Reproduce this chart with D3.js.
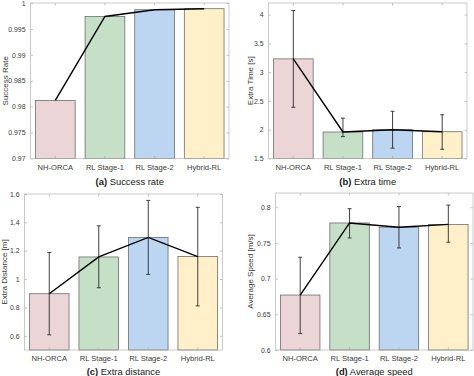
<!DOCTYPE html>
<html>
<head>
<meta charset="utf-8">
<script src="https://cdn.jsdelivr.net/npm/d3@7"></script>
<style>
body { margin: 0; background: #fff; }
svg { display: block; font-family: "Liberation Sans", Arial, sans-serif; }
</style>
</head>
<body>
<script>
// categories and bar colours
var categories = ['NH-ORCA', 'RL Stage-1', 'RL Stage-2', 'Hybrid-RL'];
var barColors = ['#ecd5d7', '#c6dfc7', '#bcd5f1', '#fff0c9'];

// (a) success rate
var successRate = [0.9812, 0.9974, 0.9987, 0.9989];
var successTicks = [0.97, 0.975, 0.98, 0.985, 0.99, 0.995, 1];

// (b) extra time
var extraTime = [3.23, 1.96, 2.00, 1.965];
var extraTimeLow = [2.39, 1.88, 1.68, 1.66];
var extraTimeHigh = [4.07, 2.20, 2.32, 2.26];
var timeTicks = [1.5, 2, 2.5, 3, 3.5, 4];

// (c) extra distance
var extraDist = [0.897, 1.156, 1.294, 1.159];
var extraDistLow = [0.607, 0.939, 1.033, 0.811];
var extraDistHigh = [1.187, 1.376, 1.555, 1.506];
var distTicks = [0.6, 0.8, 1, 1.2, 1.4, 1.6];

// (d) average speed
var avgSpeed = [0.677, 0.778, 0.772, 0.776];
var avgSpeedLow = [0.623, 0.757, 0.743, 0.751];
var avgSpeedHigh = [0.730, 0.798, 0.801, 0.803];
var speedTicks = [0.6, 0.65, 0.7, 0.75, 0.8];

var svg = d3.select('body').append('svg')
	.attr('width', 474)
	.attr('height', 376);

/*
/	ONE PANEL
*/
function drawPanel(p){
	var g = svg.append('g');

	var x = d3.scaleBand()
		.domain(categories)
		.range([p.left, p.right])
		.paddingInner(0.2)
		.paddingOuter(0.1);

	var y = d3.scaleLinear()
		.domain(p.domain)
		.range([p.bottom, p.top]);

	// bars
	g.selectAll('rect.bar').data(p.values).enter().append('rect')
		.attr('class', 'bar')
		.attr('x', function(d, i){ return x(categories[i]); })
		.attr('y', function(d){ return y(d); })
		.attr('width', x.bandwidth())
		.attr('height', function(d){ return p.bottom - y(d); })
		.style('fill', function(d, i){ return barColors[i]; })
		.style('stroke', '#6e6e6e')
		.style('stroke-width', 0.8);

	var cx = function(i){ return x(categories[i]) + x.bandwidth() / 2; };

	// error bars
	if(p.low){
		var eb = g.selectAll('g.err').data(p.values).enter().append('g');
		eb.append('line')
			.attr('x1', function(d, i){ return cx(i); })
			.attr('x2', function(d, i){ return cx(i); })
			.attr('y1', function(d, i){ return y(p.low[i]); })
			.attr('y2', function(d, i){ return y(p.high[i]); });
		eb.append('line')
			.attr('x1', function(d, i){ return cx(i) - 2; })
			.attr('x2', function(d, i){ return cx(i) + 2; })
			.attr('y1', function(d, i){ return y(p.low[i]); })
			.attr('y2', function(d, i){ return y(p.low[i]); });
		eb.append('line')
			.attr('x1', function(d, i){ return cx(i) - 2; })
			.attr('x2', function(d, i){ return cx(i) + 2; })
			.attr('y1', function(d, i){ return y(p.high[i]); })
			.attr('y2', function(d, i){ return y(p.high[i]); });
		eb.selectAll('line')
			.style('stroke', '#2b2b2b')
			.style('stroke-width', 0.9);
	}

	// mean line
	var line = d3.line()
		.x(function(d, i){ return cx(i); })
		.y(function(d){ return y(d); });
	g.append('path')
		.datum(p.values)
		.attr('d', line)
		.style('fill', 'none')
		.style('stroke', '#000')
		.style('stroke-width', 1.4);

	// axes, ticks pointing inward on all four sides
	var axL = d3.axisLeft(y).tickValues(p.ticks).tickSizeInner(-2.5).tickSizeOuter(0).tickPadding(5)
		.tickFormat(d3.format(''));
	var gl = g.append('g').attr('transform', 'translate(' + p.left + ',0)').call(axL);
	gl.selectAll('text').style('font-size', '6.9px').style('fill', '#3a3a3a');

	var axR = d3.axisRight(y).tickValues(p.ticks).tickSizeInner(-2.5).tickSizeOuter(0).tickFormat('');
	g.append('g').attr('transform', 'translate(' + p.right + ',0)').call(axR);

	var axB = d3.axisBottom(x).tickSizeInner(-2.5).tickSizeOuter(0).tickPadding(6);
	var gb = g.append('g').attr('transform', 'translate(0,' + p.bottom + ')').call(axB);
	gb.selectAll('text').style('font-size', '7.6px').style('fill', '#3a3a3a');

	var axT = d3.axisTop(x).tickSizeInner(-2.5).tickSizeOuter(0).tickFormat('');
	g.append('g').attr('transform', 'translate(0,' + p.top + ')').call(axT);

	g.selectAll('.domain').remove();
	g.selectAll('.tick line').style('stroke', '#9a9a9a').style('stroke-width', 0.6);

	g.append('rect')
		.attr('x', p.left)
		.attr('y', p.top)
		.attr('width', p.right - p.left)
		.attr('height', p.bottom - p.top)
		.style('fill', 'none')
		.style('stroke', '#b4b4b4')
		.style('stroke-width', 0.7);

	// y label
	g.append('text')
		.attr('transform', 'translate(' + p.ylabelX + ',' + ((p.top + p.bottom) / 2) + ') rotate(-90)')
		.attr('text-anchor', 'middle')
		.attr('dy', '0.35em')
		.style('font-size', '8px')
		.style('fill', '#3a3a3a')
		.text(p.ylabel);

	// caption
	var cap = g.append('text')
		.attr('x', (p.left + p.right) / 2)
		.attr('y', p.captionY)
		.attr('text-anchor', 'middle')
		.style('font-size', '9.4px')
		.style('fill', '#1a1a1a');
	cap.append('tspan').style('font-weight', 'bold').text(p.tag);
	cap.append('tspan').text(' ' + p.caption);
}

drawPanel({
	left: 30.5, right: 229, top: 3, bottom: 158.5,
	domain: [0.97, 1], ticks: successTicks,
	values: successRate,
	ylabel: 'Success Rate', ylabelX: 5,
	tag: '(a)', caption: 'Success rate', captionY: 185
});

drawPanel({
	left: 268.5, right: 467, top: 3, bottom: 158.5,
	domain: [1.5, 4.2], ticks: timeTicks,
	values: extraTime, low: extraTimeLow, high: extraTimeHigh,
	ylabel: 'Extra Time [s]', ylabelX: 250,
	tag: '(b)', caption: 'Extra time', captionY: 185
});

drawPanel({
	left: 24.5, right: 222.5, top: 194, bottom: 350,
	domain: [0.5, 1.6], ticks: distTicks,
	values: extraDist, low: extraDistLow, high: extraDistHigh,
	ylabel: 'Extra Distance [m]', ylabelX: 4,
	tag: '(c)', caption: 'Extra distance', captionY: 375
});

drawPanel({
	left: 275.5, right: 473, top: 193, bottom: 350,
	domain: [0.6, 0.82], ticks: speedTicks,
	values: avgSpeed, low: avgSpeedLow, high: avgSpeedHigh,
	ylabel: 'Average Speed [m/s]', ylabelX: 250,
	tag: '(d)', caption: 'Average speed', captionY: 375
});
</script>
</body>
</html>
